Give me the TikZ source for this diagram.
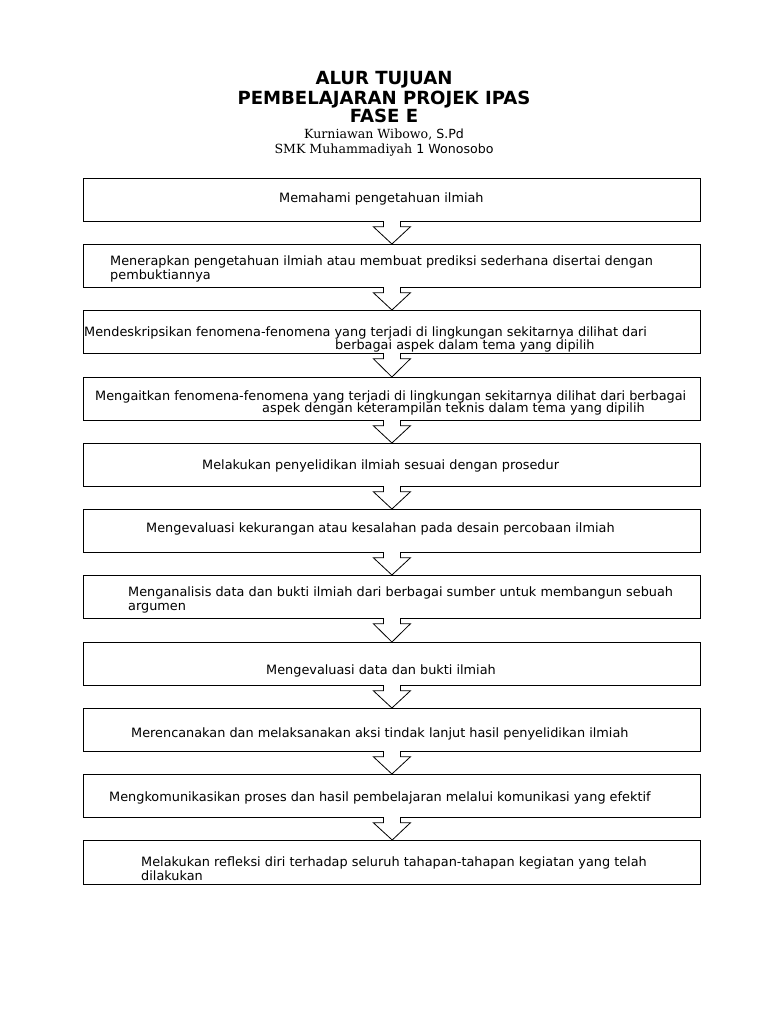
\documentclass[tikz,border=0pt]{standalone}
\usepackage{fontspec}
\setmainfont{DejaVu Sans}
\newfontfamily\dvserif{DejaVu Serif}
\usetikzlibrary{calc}
\tikzset{
  stepbox/.style={draw=black, line width=0.8pt, fill=white, minimum width=617pt, minimum height=43pt, inner sep=0pt, anchor=north west},
  lastbox/.style={stepbox, line width=1.4pt, minimum height=44pt},
  txt/.style={anchor=base west, inner sep=0pt, font=\fontsize{12.85}{14}\selectfont},
  ttl/.style={anchor=base, inner sep=0pt, font=\fontsize{18.1}{20}\selectfont\bfseries},
  sub/.style={anchor=base, inner sep=0pt, font=\fontsize{12.6}{14}\selectfont},
  blockarrow/.style={draw=black, line width=0.8pt, fill=white, line join=miter}
}
\newcommand{\flowarrow}[2]{%
  \filldraw[blockarrow] ($(#1.south)+(-8.5,-0.6)$) -- ($(#1.south)+(-8.5,5)$) -- ($(#1.south)+(-18.5,5)$) -- (#2.north) -- ($(#1.south)+(18.5,5)$) -- ($(#1.south)+(8.5,5)$) -- ($(#1.south)+(8.5,-0.6)$);}
\begin{document}
\begin{tikzpicture}[x=1pt,y=-1pt]
\useasboundingbox[fill=white] (0,0) rectangle (768,1024);
% title
\node[ttl] (h1) at (384,85) {ALUR TUJUAN};
\node[ttl] (h2) at (384,104.5) {PEMBELAJARAN PROJEK IPAS};
\node[ttl] (h3) at (384,122.5) {FASE E};
\node[sub] (s1) at (384,139) {{\dvserif Kurniawan Wibowo, }S.Pd};
\node[sub] (s2) at (384,154) {{\dvserif SMK Muhammadiyah }1 Wonosobo};
% boxes
\node[stepbox] (b1) at (83,178) {};
\node[stepbox] (b2) at (83,244) {};
\node[stepbox] (b3) at (83,310) {};
\node[stepbox] (b4) at (83,377) {};
\node[stepbox] (b5) at (83,443) {};
\node[stepbox] (b6) at (83,509) {};
\node[stepbox] (b7) at (83,575) {};
\node[stepbox] (b8) at (83,642) {};
\node[stepbox] (b9) at (83,708) {};
\node[stepbox] (b10) at (83,774) {};
\node[lastbox] (b11) at (83,840) {};
% arrows
\flowarrow{b1}{b2}
\flowarrow{b2}{b3}
\flowarrow{b3}{b4}
\flowarrow{b4}{b5}
\flowarrow{b5}{b6}
\flowarrow{b6}{b7}
\flowarrow{b7}{b8}
\flowarrow{b8}{b9}
\flowarrow{b9}{b10}
\flowarrow{b10}{b11}
% texts
\node[txt] (t1) at (279,202.5) {Memahami pengetahuan ilmiah};
\node[txt] (t2a) at (110,265.5) {Menerapkan pengetahuan ilmiah atau membuat prediksi sederhana disertai dengan};
\node[txt] (t2b) at (110,279.5) {pembuktiannya};
\node[txt] (t3a) at (84,336) {Mendeskripsikan fenomena-fenomena yang terjadi di lingkungan sekitarnya dilihat dari};
\node[txt] (t3b) at (335,349) {berbagai aspek dalam tema yang dipilih};
\node[txt] (t4a) at (95,400) {Mengaitkan fenomena-fenomena yang terjadi di lingkungan sekitarnya dilihat dari berbagai};
\node[txt] (t4b) at (262,412) {aspek dengan keterampilan teknis dalam tema yang dipilih};
\node[txt] (t5) at (202,469) {Melakukan penyelidikan ilmiah sesuai dengan prosedur};
\node[txt] (t6) at (146,532) {Mengevaluasi kekurangan atau kesalahan pada desain percobaan ilmiah};
\node[txt] (t7a) at (128,596) {Menganalisis data dan bukti ilmiah dari berbagai sumber untuk membangun sebuah};
\node[txt] (t7b) at (128,610) {argumen};
\node[txt] (t8) at (266,674) {Mengevaluasi data dan bukti ilmiah};
\node[txt] (t9) at (131,737) {Merencanakan dan melaksanakan aksi tindak lanjut hasil penyelidikan ilmiah};
\node[txt] (t10) at (109,801) {Mengkomunikasikan proses dan hasil pembelajaran melalui komunikasi yang efektif};
\node[txt] (t11a) at (141,866) {Melakukan refleksi diri terhadap seluruh tahapan-tahapan kegiatan yang telah};
\node[txt] (t11b) at (141,880) {dilakukan};
\end{tikzpicture}
\end{document}
